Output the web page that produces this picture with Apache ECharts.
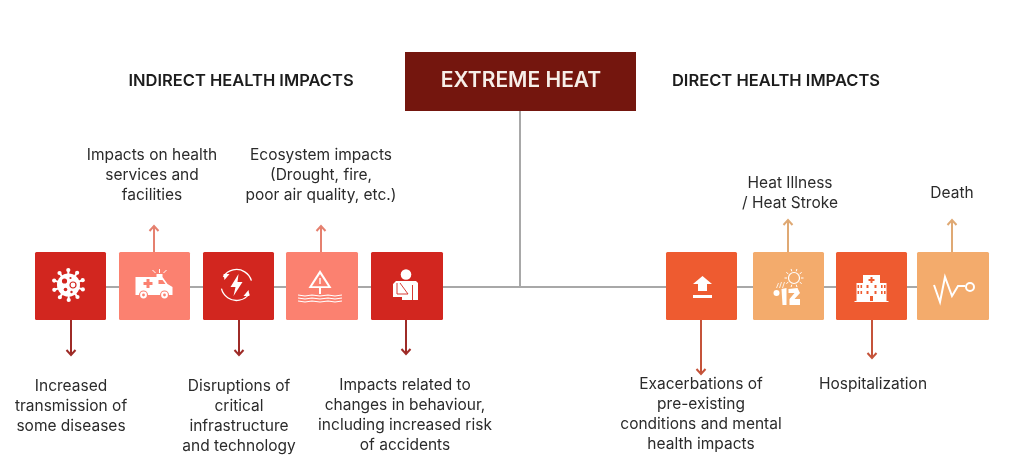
<!DOCTYPE html>
<html>
<head>
<meta charset="utf-8">
<title>Extreme heat</title>
<script src="https://cdn.jsdelivr.net/npm/echarts@6/dist/echarts.min.js"></script>
<style>
    html, body { margin: 0; padding: 0; background: #fff; }
    #main { width: 1024px; height: 475px; }
</style>
</head>
<body>
<div id="main"></div>
<script>
    // the diagram is plotted on hidden 1024 x 475 value axes
    var boxIcons = ['virus', 'ambulance', 'power', 'warning', 'injury', 'upload', 'heatstroke', 'hospital', 'pulse'];
    var boxLeft = [35, 119, 203, 286, 371, 666, 753, 836, 917];
    var boxRight = [106, 190, 274, 358, 443, 737, 824, 907, 989];
    var boxTop = [252, 252, 252, 252, 252, 252, 252, 252, 252];
    var boxBottom = [320, 320, 320, 320, 320, 320, 320, 320, 320];
    var boxKinds = [0, 1, 0, 1, 0, 2, 3, 2, 3];

    var arrowX = [71, 154, 239, 321, 406, 701, 788, 872, 952];
    var arrowTip = [355, 226, 355, 226, 354, 374, 220, 358, 220];

    var captions = [
        'Increased\ntransmission of\nsome diseases',
        'Impacts on health\nservices and\nfacilities',
        'Disruptions of\ncritical\ninfrastructure\nand technology',
        'Ecosystem impacts\n(Drought, fire,\npoor air quality, etc.)',
        'Impacts related to\nchanges in behaviour,\nincluding increased risk\nof accidents',
        'Exacerbations of\npre-existing\nconditions and mental\nhealth impacts',
        'Heat Illness\n/ Heat Stroke',
        'Hospitalization',
        'Death'
    ];
    var captionX = [71, 152, 239, 321, 405, 701, 790, 873, 952];
    var captionTop = [376, 145, 376, 145, 375, 374, 173, 374, 183];

    var headings = ['INDIRECT HEALTH IMPACTS', 'DIRECT HEALTH IMPACTS'];
    var headingX = [241, 776];
    var headingY = [81, 81];

    var titleText = 'EXTREME HEAT';
    var titleBox = [405, 52, 636, 111];
    var connectors = [[106, 287, 666, 287], [520, 111, 520, 287], [737, 287, 917, 287]];

    var boxColors = ['#d2261f', '#fb8170', '#ee5b30', '#f3ab6c'];
    var arrowColors = ['#9e2b27', '#e5806f', '#c5533a', '#dfa974'];
    var FONT = 'Inter, "Open Sans", sans-serif';
    var WHITE = '#fff';

    function circle(x, y, r, fill, stroke, lw) {
        return { type: 'circle', shape: { cx: x, cy: y, r: r }, style: { fill: fill || 'none', stroke: stroke || null, lineWidth: lw || 0 } };
    }
    function rect(x, y, w, h, fill) {
        return { type: 'rect', shape: { x: x, y: y, width: w, height: h }, style: { fill: fill || WHITE } };
    }
    function poly(points, fill) {
        return { type: 'polygon', shape: { points: points }, style: { fill: fill || WHITE } };
    }
    function stroke(points, lw, color) {
        return { type: 'polyline', shape: { points: points }, style: { fill: 'none', stroke: color || WHITE, lineWidth: lw || 1.5 } };
    }
    function arc(r, a, b, lw) {
        return { type: 'arc', shape: { cx: 0, cy: 0, r: r, startAngle: a, endAngle: b, clockwise: true }, style: { fill: 'none', stroke: WHITE, lineWidth: lw } };
    }

    var iconMakers = {
        virus: function (bg) {
            var out = [], i, a;
            for (i = 0; i < 10; i++) {
                a = i * Math.PI / 5 + 0.3;
                out.push(stroke([[9 * Math.cos(a), 9 * Math.sin(a)], [14 * Math.cos(a), 14 * Math.sin(a)]], 2));
                out.push(circle(15 * Math.cos(a), 15 * Math.sin(a), 2.1, WHITE));
            }
            out.push(circle(0, 0, 11.5, WHITE));
            out.push(circle(-4, -4, 2.6, bg));
            out.push(circle(4.5, 0, 3, null, bg, 1.2));
            out.push(circle(-3, 4.5, 1.8, bg));
            out.push(circle(2, -7, 1.1, bg));
            out.push(circle(3, 7, 1.2, bg));
            return out;
        },
        ambulance: function (bg) {
            return [
                poly([[-18, -7], [3, -7], [9, -7], [14, 0], [19, 3], [19, 11], [-18, 11]]),
                poly([[5, -4], [9, -4], [12, 0], [5, 0]], bg),
                rect(-10, -2, 9, 3, bg),
                rect(-7, -5, 3, 9, bg),
                circle(-10, 11, 4.5, bg),
                circle(-10, 11, 3.4, WHITE),
                circle(-10, 11, 1.4, bg),
                circle(11, 11, 4.5, bg),
                circle(11, 11, 3.4, WHITE),
                circle(11, 11, 1.4, bg),
                rect(3, -10, 6, 3),
                stroke([[6, -11], [6, -15]], 1),
                stroke([[10, -11], [13, -14]], 1),
                stroke([[2, -11], [-1, -14]], 1)
            ];
        },
        power: function () {
            return [
                arc(15.5, 3.7, 6.0, 1.3),
                arc(15.5, 0.6, 2.9, 1.3),
                poly([[-13, -11], [-7, -11], [-12, -5]]),
                poly([[13, 11], [7, 11], [12, 5]]),
                poly([[2, -11], [-6, 2], [-1, 2], [-3, 11], [6, -3], [1, -3]])
            ];
        },
        warning: function (bg) {
            return [
                poly([[0, -14], [11.5, 4], [-11.5, 4]]),
                poly([[0, -10], [8, 2.2], [-8, 2.2]], bg),
                rect(-0.7, -6, 1.4, 6),
                rect(-1, 4, 2, 6),
                stroke([[-22, 11], [-15, 12], [-8, 11], [0, 12], [8, 11], [15, 12], [22, 11]], 1.2),
                stroke([[-22, 14], [-15, 15], [-8, 14], [0, 15], [8, 14], [15, 15], [22, 14]], 1.2),
                stroke([[-22, 17], [-15, 18], [-8, 17], [0, 18], [8, 17], [15, 18], [22, 17]], 1.2)
            ];
        },
        injury: function (bg) {
            return [
                circle(0, -8.5, 5.3, WHITE),
                poly([[-10, -2], [10, -2], [12, 0], [12, 17], [-4, 17], [-4, 14], [-13, 14], [-13, 1]]),
                stroke([[-9, 0], [-9, 11], [2, 11], [-6, 0]], 0.9, bg),
                rect(6, 2, 0.9, 15, bg)
            ];
        },
        upload: function () {
            return [
                poly([[0, -9], [9.5, -1], [4.5, -1], [4.5, 6], [-4.5, 6], [-4.5, -1], [-9.5, -1]]),
                rect(-9.5, 10, 19, 3)
            ];
        },
        heatstroke: function () {
            var out = [circle(2.5, -7, 5.5, null, WHITE, 1.2)], i, a;
            for (i = 0; i < 10; i++) {
                a = i * Math.PI / 5;
                out.push(stroke([[2.5 + 7 * Math.cos(a), -7 + 7 * Math.sin(a)], [2.5 + 9.5 * Math.cos(a), -7 + 9.5 * Math.sin(a)]], 1));
            }
            out.push(circle(-15, 8, 3, WHITE));
            out.push(stroke([[-15, 3], [-13, -2]], 0.8));
            out.push(stroke([[-12, 3], [-10, -3]], 0.8));
            out.push(stroke([[-9, 3], [-7, -3]], 0.8));
            out.push(poly([[-10, 4], [-5, 3], [-5, 20], [-9, 20]]));
            out.push(poly([[-3, 4], [6, 3], [8.5, 8], [3, 14], [8.5, 14], [8.5, 20], [-2, 20], [-2, 14], [3, 8], [-3, 8]]));
            return out;
        },
        hospital: function (bg) {
            var out = [
                rect(-15, -3, 7, 18),
                rect(8, -3, 7, 18),
                rect(-8.5, -11, 17, 26),
                rect(-17, 15, 34, 1),
                rect(-1, -9, 2, 6, bg),
                rect(-3, -7, 6, 2, bg),
                rect(-1.5, 10, 3, 5, bg)
            ], i, j;
            for (i = 0; i < 2; i++) {
                for (j = 0; j < 2; j++) {
                    out.push(rect(-14 + i * 3, -1 + j * 6, 1.6, 3, bg));
                    out.push(rect(9.5 + i * 3, -1 + j * 6, 1.6, 3, bg));
                }
                out.push(rect(-5 + i * 8, -1, 2, 3, bg));
                out.push(rect(-5 + i * 8, 5, 2, 3, bg));
            }
            return out;
        },
        pulse: function () {
            return [
                stroke([[-16, 1], [-10, 18], [-5, -7], [2, 12], [8, 2], [15, 2]], 2),
                circle(20, 3, 4, null, WHITE, 2)
            ];
        }
    };

    function arrowHead(x, y, dir, color) {
        return { type: 'polyline', shape: { points: [[x - 4.5, y - dir * 5], [x, y], [x + 4.5, y - dir * 5]] }, style: { fill: 'none', stroke: color, lineWidth: 2 } };
    }

    var myChart = echarts.init(document.getElementById('main'));
    var option = {
        backgroundColor: '#fff',
        animation: false,
        grid: { left: 0, right: 0, top: 0, bottom: 0 },
        xAxis: { type: 'value', min: 0, max: 1024, show: false },
        yAxis: { type: 'value', min: 0, max: 475, inverse: true, show: false },
        series: [
            {
                // grey connectors
                type: 'custom', silent: true, z: 1, clip: false,
                data: connectors,
                renderItem: function (params, api) {
                    var a = api.coord([api.value(0), api.value(1)]);
                    var b = api.coord([api.value(2), api.value(3)]);
                    return { type: 'line', shape: { x1: a[0], y1: a[1], x2: b[0], y2: b[1] }, style: { stroke: '#a8a8a8', lineWidth: 2 } };
                }
            },
            {
                // arrows start on the box edge
                type: 'custom', silent: true, z: 2, clip: false,
                data: arrowX.map(function (x, i) {
                    return [x, arrowTip[i], arrowTip[i] < boxTop[i] ? boxTop[i] : boxBottom[i], boxKinds[i]];
                }),
                renderItem: function (params, api) {
                    var tip = api.coord([api.value(0), api.value(1)]);
                    var from = api.coord([api.value(0), api.value(2)]);
                    var color = arrowColors[api.value(3)];
                    var dir = tip[1] > from[1] ? 1 : -1;
                    return {
                        type: 'group',
                        children: [
                            { type: 'line', shape: { x1: from[0], y1: from[1], x2: tip[0], y2: tip[1] }, style: { stroke: color, lineWidth: 2 } },
                            arrowHead(tip[0], tip[1], dir, color)
                        ]
                    };
                }
            },
            {
                // squares with their icons
                type: 'custom', silent: true, z: 3, clip: false,
                data: boxLeft.map(function (x, i) {
                    return [x, boxTop[i], boxRight[i], boxBottom[i], boxKinds[i], i];
                }),
                renderItem: function (params, api) {
                    var a = api.coord([api.value(0), api.value(1)]);
                    var b = api.coord([api.value(2), api.value(3)]);
                    var bg = boxColors[api.value(4)];
                    var icon = boxIcons[api.value(5)];
                    var offsets = { virus: [-2, -1], ambulance: [-1, -2], power: [-2, -1], warning: [-2, -2], injury: [-1, -3], upload: [1, -1], heatstroke: [3, -1], hospital: [0, 0], pulse: [-3, -2] };
                    return {
                        type: 'group',
                        children: [
                            { type: 'rect', shape: { x: a[0], y: a[1], width: b[0] - a[0], height: b[1] - a[1], r: 1.5 }, style: { fill: bg } },
                            {
                                type: 'group',
                                x: (a[0] + b[0]) / 2 + offsets[icon][0],
                                y: (a[1] + b[1]) / 2 + offsets[icon][1],
                                children: iconMakers[icon](bg)
                            }
                        ]
                    };
                }
            },
            {
                // title box
                type: 'custom', silent: true, z: 3, clip: false,
                data: [titleBox],
                renderItem: function (params, api) {
                    var a = api.coord([api.value(0), api.value(1)]);
                    var b = api.coord([api.value(2), api.value(3)]);
                    return {
                        type: 'group',
                        children: [
                            { type: 'rect', shape: { x: a[0], y: a[1], width: b[0] - a[0], height: b[1] - a[1] }, style: { fill: '#74160e' } },
                            { type: 'text', style: { text: titleText, x: (a[0] + b[0]) / 2 + 0.5, y: (a[1] + b[1]) / 2 - 0.5, align: 'center', verticalAlign: 'middle', fill: '#f7efe9', font: '600 21px ' + FONT } }
                        ]
                    };
                }
            },
            {
                // headings
                type: 'custom', silent: true, z: 4, clip: false,
                data: headingX.map(function (x, i) { return [x, headingY[i], i]; }),
                renderItem: function (params, api) {
                    var p = api.coord([api.value(0), api.value(1)]);
                    return { type: 'text', style: { text: headings[api.value(2)], x: p[0], y: p[1], align: 'center', verticalAlign: 'middle', fill: '#1c1c1c', font: '600 16.5px ' + FONT } };
                }
            },
            {
                // captions
                type: 'custom', silent: true, z: 4, clip: false,
                data: captionX.map(function (x, i) { return [x, captionTop[i], i]; }),
                renderItem: function (params, api) {
                    var p = api.coord([api.value(0), api.value(1)]);
                    return { type: 'text', style: { text: captions[api.value(2)], x: p[0], y: p[1], align: 'center', verticalAlign: 'top', fill: '#2b2b2b', lineHeight: 20, font: '400 15.5px ' + FONT } };
                }
            }
        ]
    };
    myChart.setOption(option);
</script>
</body>
</html>
